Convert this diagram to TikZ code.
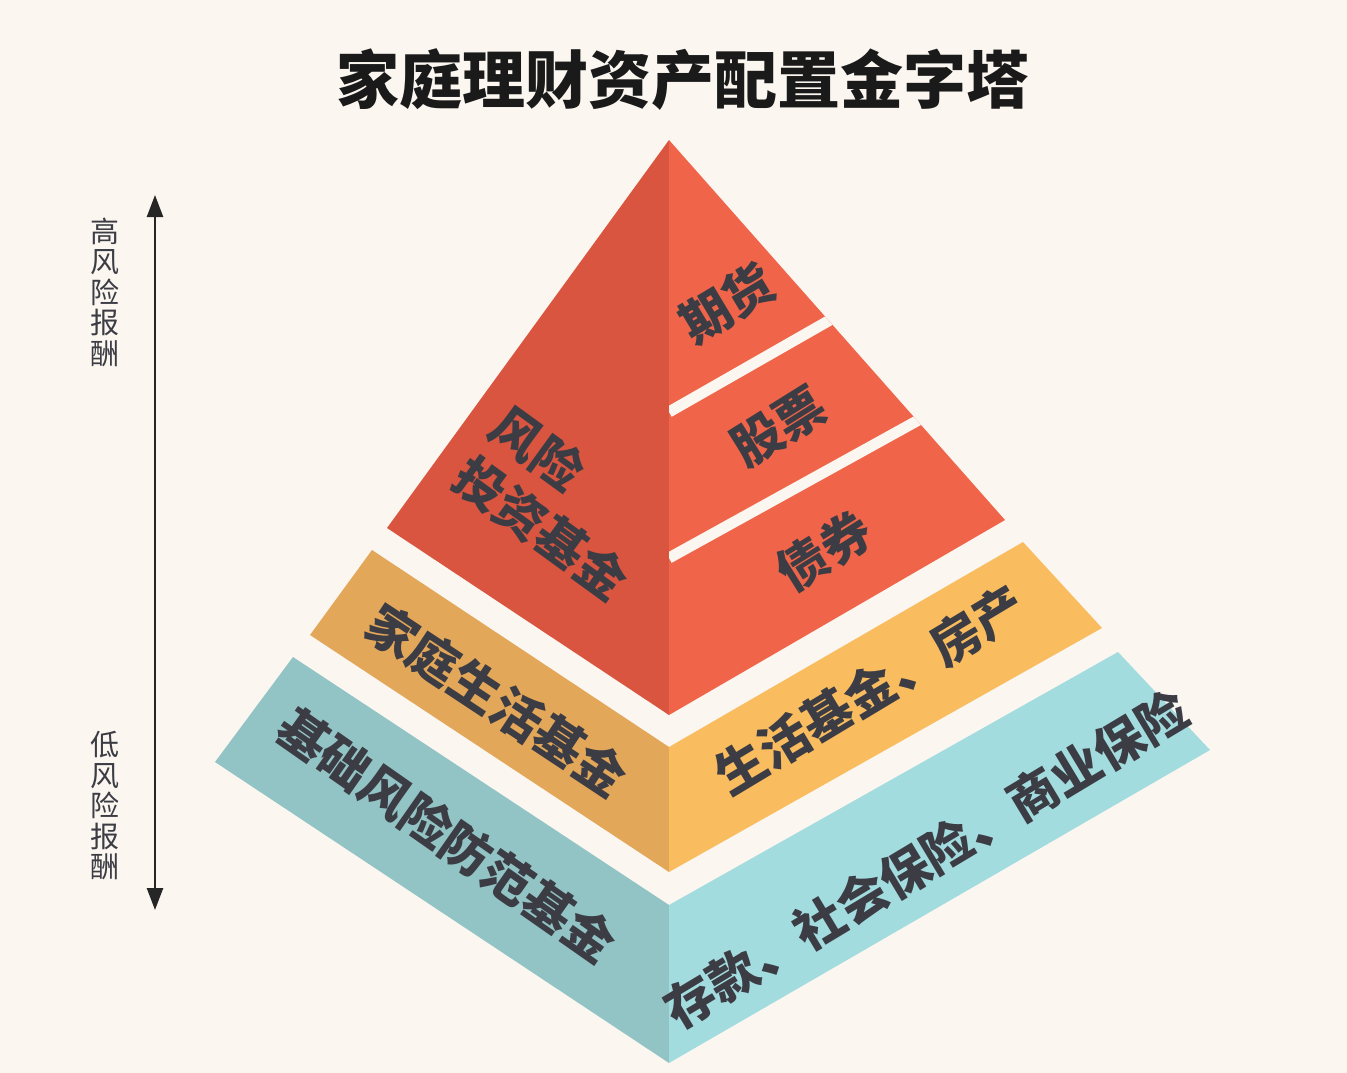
\documentclass[tikz,border=0pt]{standalone}
\usepackage{fontspec}
\usetikzlibrary{arrows.meta}
\newfontfamily\cjk{Noto Sans CJK SC}
\definecolor{bg}{HTML}{FBF6F0}
\definecolor{redL}{HTML}{D9553F}
\definecolor{redR}{HTML}{F0654A}
\definecolor{oraL}{HTML}{E3A75A}
\definecolor{oraR}{HTML}{F9BD60}
\definecolor{cyaL}{HTML}{92C4C6}
\definecolor{cyaR}{HTML}{A3DCDF}
\definecolor{txt}{HTML}{3C3C44}
\definecolor{ttl}{HTML}{1A1A1A}
\tikzset{
  lbl/.style={font=\cjk\bfseries\fontsize{50}{62}\selectfont, text=txt, inner sep=0pt, align=left},
  side/.style={font=\cjk\fontsize{29}{30.5}\selectfont, text=txt, inner sep=0pt, align=center},
  stripe/.style={draw=bg, line width=11pt},
}
\begin{document}
\begin{tikzpicture}[x=1pt,y=-1pt]
\fill[bg] (0,0) rectangle (1347,1073);
\useasboundingbox (0,0) rectangle (1347,1073);
% title
\node[font=\cjk\bfseries\fontsize{63}{66}\selectfont, text=ttl, inner sep=0pt] (title) at (683,80) {家庭理财资产配置金字塔};
% cyan band
\fill[cyaL] (293,657) -- (215,762) -- (669,1063) -- (669,905) -- cycle;
\fill[cyaR] (669,905) -- (1118,652) -- (1210,750) -- (669,1063) -- cycle;
% orange band
\fill[oraL] (372,550) -- (310,635) -- (669,872) -- (669,747) -- cycle;
\fill[oraR] (669,747) -- (1023,542) -- (1102,628) -- (669,872) -- cycle;
% red pyramid
\fill[redL] (669,140) -- (387,528) -- (669,715) -- cycle;
\fill[redR] (669,140) -- (1005,520) -- (669,715) -- cycle;
\begin{scope}
\clip (669,140) -- (1005,520) -- (669,715) -- cycle;
\draw[stripe] (669,412) -- (900,280);
\draw[stripe] (669,558) -- (1000,375);
\end{scope}
% labels
\node[lbl, rotate=31] (qh) at (727,303) {期货};
\node[lbl, rotate=32] (gp) at (779,427) {股票};
\node[lbl, rotate=32] (zq) at (824,551) {债券};
\node[lbl, rotate=-36] (fx) at (560,503) {风险\\投资基金};
\node[lbl, rotate=-33.5] (jt) at (497,700) {家庭生活基金};
\node[lbl, rotate=31] (sh) at (870,690) {生活基金、房产};
\node[lbl, rotate=-35] (jc) at (447,835) {基础风险防范基金};
\node[lbl, rotate=31] (ck) at (926,859) {存款、社会保险、商业保险};
% side axis
\coordinate (atop) at (155,195);
\coordinate (abot) at (155,910);
\draw[line width=2.5pt, black!85, {Triangle[length=22pt,width=16pt]}-{Triangle[length=22pt,width=16pt]}] (atop) -- (abot);
\node[side] (hi) at (105,292) {高\\风\\险\\报\\酬};
\node[side] (lo) at (105,806) {低\\风\\险\\报\\酬};
\end{tikzpicture}
\end{document}
